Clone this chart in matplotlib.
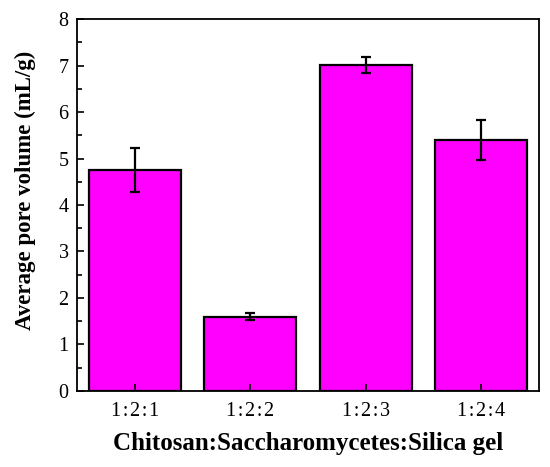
import matplotlib
matplotlib.use("Agg")
import matplotlib.pyplot as plt
from matplotlib.ticker import MultipleLocator

hs = "\u200a"
categories = [hs.join("1:2:1"), hs.join("1:2:2"), hs.join("1:2:3"), hs.join("1:2:4")]
values = [4.75, 1.60, 7.02, 5.40]
errors = [0.48, 0.07, 0.17, 0.44]

plt.rcParams['font.family'] = ['Liberation Serif', 'DejaVu Serif']

fig = plt.figure(figsize=(5.5, 4.67), dpi=100)
ax = fig.add_axes([0.14, 0.163, 0.84, 0.796])

x = list(range(len(categories)))
ax.bar(x, values, width=0.8, color='#ff00ff', edgecolor='black', linewidth=1.6,
       yerr=errors, capsize=3.5, error_kw=dict(elinewidth=1.6, capthick=1.6, ecolor='black'))

ax.set_xlim(-0.5, 3.5)
ax.set_ylim(0, 8)
ax.set_xticks(x)
ax.set_xticklabels(categories, fontsize=14.5)
ax.yaxis.set_major_locator(MultipleLocator(1))
ax.yaxis.set_minor_locator(MultipleLocator(0.5))
ax.tick_params(axis='both', which='major', direction='in', length=5, width=1.2, labelsize=14.5)
ax.tick_params(axis='y', which='minor', direction='in', length=3.5, width=1.2)
ax.tick_params(axis='x', pad=8)
ax.tick_params(axis='y', pad=6)
for s in ax.spines.values():
    s.set_linewidth(1.3)

ax.set_ylabel("Average pore volume (mL/g)", fontsize=16.5, fontweight='bold')
ax.yaxis.set_label_coords(-0.088, 0.54)
ax.set_xlabel("Chitosan:Saccharomycetes:Silica gel", fontsize=18, fontweight='bold')
ax.xaxis.set_label_coords(0.5, -0.11)

fig.savefig("out.png", dpi=100)
